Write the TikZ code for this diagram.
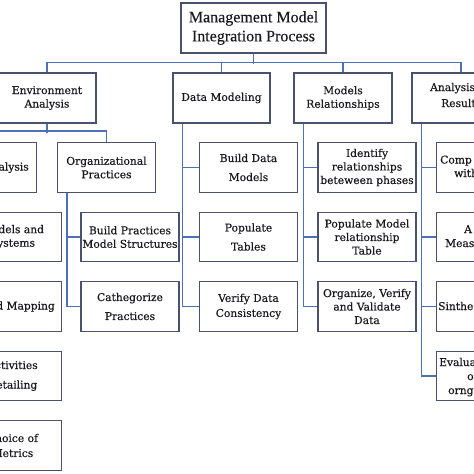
\documentclass[tikz,border=0pt]{standalone}
\usepackage{fontspec}
\setmainfont{DejaVu Serif}[FakeBold=0.35]
\newfontfamily\topfont{Liberation Serif}[FakeBold=0.2]
\definecolor{boxc}{RGB}{72,82,108}
\definecolor{linec}{RGB}{78,112,185}
\definecolor{txt}{RGB}{25,25,30}
\begin{document}
\begin{tikzpicture}[x=1pt,y=-1pt,
  bx/.style={draw=boxc,line width=1.4pt,minimum width=98pt,minimum height=49.5pt,inner sep=1pt,align=center,font=\fontsize{10.7}{13.5}\selectfont,text=txt},
  conn/.style={draw=linec,line width=1.5pt},
  frag/.style={font=\fontsize{10.7}{13.5}\selectfont,text=txt,inner sep=0pt}]
\useasboundingbox (0,0) rectangle (474,474);
\clip (0,0) rectangle (474,474);
\fill[white] (0,0) rectangle (474,474);

% top
\node[bx,minimum width=145pt,minimum height=50pt,font=\topfont\fontsize{16}{19}\selectfont] (top) at (253.5,28) {Management Model\\Integration Process};

% level 1
\node[bx,minimum height=50pt] (EA) at (47,98) {Environment\\Analysis};
\node[bx,minimum height=50pt,minimum width=97pt] (DM) at (221.5,98) {Data Modeling};
\node[bx,minimum height=50pt] (MR) at (343,98) {Models\\Relationships};
\node[bx,minimum height=50pt] (AR) at (461,98) {};
\node[frag,anchor=base west] (ar1) at (430,91) {Analysis};
\node[frag,anchor=base west] (ar2) at (441,107) {Results};

% left column (children of L1)
\node[bx] (L1) at (-12.5,167.5) {};
\node[frag,anchor=base east] (l1t) at (29,170.5) {alysis};
\node[bx] (L2) at (12.5,237) {Models and\\Systems};
\node[bx] (L3) at (12.5,306.5) {};
\node[frag,anchor=base east] (l3t) at (55,309.5) {d Mapping};
\node[bx] (L4) at (12.5,376) {Activities\\[6pt]Detailing};
\node[bx] (L5) at (12.5,445.5) {Choice of\\[1.5pt]Metrics};

% organizational practices
\node[bx] (O) at (106.5,167.5) {Organizational\\Practices};
\node[bx] (O1) at (130,237) {Build Practices\\Model Structures};
\node[bx] (O2) at (130,306.5) {Cathegorize\\[5.5pt]Practices};

% data modeling
\node[bx] (D1) at (248.5,167.5) {Build Data\\[5.5pt]Models};
\node[bx] (D2) at (248.5,237) {Populate\\[5.5pt]Tables};
\node[bx] (D3) at (248.5,306.5) {Verify Data\\[1.5pt]Consistency};

% models relationships
\node[bx] (M1) at (367,167.5) {Identify\\relationships\\beteween phases};
\node[bx] (M2) at (367,237) {Populate Model\\relationship\\Table};
\node[bx] (M3) at (367,306.5) {Organize, Verify\\and Validate\\Data};

% analysis results
\node[bx] (A1) at (485.5,167.5) {};
\node[bx] (A2) at (485.5,237) {};
\node[bx] (A3) at (485.5,306.5) {};
\node[bx] (A4) at (485.5,376) {};
\node[frag,anchor=base west] (a1a) at (440,163.5) {Comp};
\node[frag,anchor=base west] (a1b) at (454,177) {with};
\node[frag,anchor=base west] (a2a) at (464,233) {A};
\node[frag,anchor=base west] (a2b) at (445,247) {Meas};
\node[frag,anchor=base west] (a3a) at (438,310) {Sinthe};
\node[frag,anchor=base west] (a4a) at (439,366) {Evalua};
\node[frag,anchor=base west] (a4b) at (467,380) {of};
\node[frag,anchor=base west] (a4c) at (448,394) {orng};

% connectors: top bus
\draw[conn] (top.south) -- ++(0,10);
\draw[conn] (EA.north) -- ++(0,-10) -| (AR.north);
\draw[conn] (DM.north) -- ++(0,-10);
\draw[conn] (MR.north) -- ++(0,-10);

% environment analysis
\draw[conn] (EA.south) -- ++(0,9);
\draw[conn] (L1.north) -- ++(0,-11) -| (O.north);
\coordinate (l1v) at ([xshift=10pt]L1.south west);
\foreach \n in {L2,L3,L4,L5} \draw[conn] (l1v) |- (\n.west);
\coordinate (ov) at ([xshift=10pt]O.south west);
\foreach \n in {O1,O2} \draw[conn] (ov) |- (\n.west);

% data modeling
\coordinate (dv) at ([xshift=10pt]DM.south west);
\foreach \n in {D1,D2,D3} \draw[conn] (dv) |- (\n.west);

% models relationships
\coordinate (mv) at ([xshift=10pt]MR.south west);
\foreach \n in {M1,M2,M3} \draw[conn] (mv) |- (\n.west);

% analysis results
\coordinate (av) at ([xshift=10pt]AR.south west);
\foreach \n in {A1,A2,A3,A4} \draw[conn] (av) |- (\n.west);
\end{tikzpicture}
\end{document}
